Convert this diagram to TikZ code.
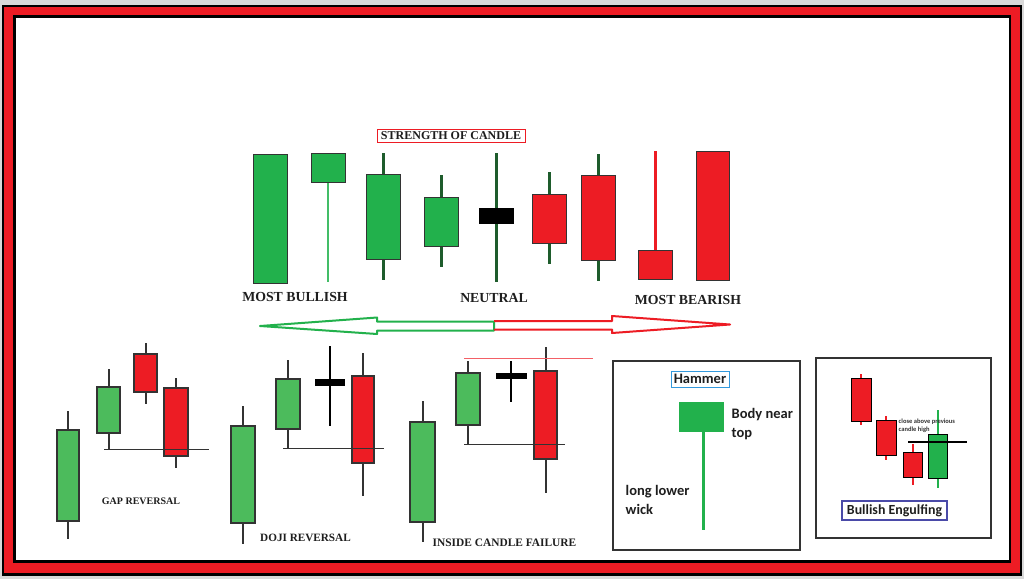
\documentclass[tikz,border=0pt]{standalone}
\usepackage{fontspec}
\setmainfont{Liberation Serif}
\newfontfamily\calfont{Carlito}
\definecolor{tg}{HTML}{22B14C}
\definecolor{tr}{HTML}{ED1C24}
\definecolor{bgr}{HTML}{4CBB5C}
\definecolor{dg}{HTML}{1E5C2C}
\definecolor{ol}{HTML}{333333}
\definecolor{txt}{HTML}{1E1E1E}
\definecolor{hamblue}{HTML}{3399DD}
\definecolor{engblue}{HTML}{4A4AA8}
\newcommand\csk[8]{%
  \draw[#2] ({(#3+#4)/2},#7) -- ({(#3+#4)/2},#8);
  \filldraw[#1] (#3,#5) rectangle (#4,#6);}
\tikzset{
  topg/.style={fill=tg,draw=ol,line width=1pt},
  topr/.style={fill=tr,draw=ol,line width=1pt},
  topw/.style={draw=dg,line width=3pt},
  botg/.style={fill=bgr,draw=ol,line width=2pt},
  botr/.style={fill=tr,draw=ol,line width=2pt},
  botk/.style={fill=black,draw=black,line width=1pt},
  botw/.style={draw=ol,line width=2pt},
  biglab/.style={font=\bfseries\fontsize{13.8}{16}\selectfont,text=txt,inner sep=0pt},
  cal/.style={font=\calfont\bfseries\fontsize{14.5}{19}\selectfont,text=txt,inner sep=0pt,align=left},
  panel/.style={draw=ol,line width=1.5pt},
}
\begin{document}
\begin{tikzpicture}[x=1pt,y=-1pt]
\useasboundingbox (0,0) rectangle (1024,579);
% frame
\fill[black!15] (0,0) rectangle (1024,579);
\fill[black] (2,5) rectangle (1022,576);
\fill[tr] (4,7.3) rectangle (1020,573);
\fill[black] (13.3,15) rectangle (1011,563);
\fill[white] (15.5,18) rectangle (1009,559.5);

% title
\node[draw=tr,line width=0.8pt,inner sep=0pt,minimum width=148pt,minimum height=13pt,
  text height=8pt,text depth=0pt,font=\bfseries\fontsize{12}{14}\selectfont,text=txt] (title) at (451,135.5) {STRENGTH OF CANDLE};

% top candles
\csk{topg}{draw=none}{253}{287}{154}{283}{154}{283}
\csk{topg}{draw=tg!85!white,line width=2.5pt}{311}{345}{153}{182}{182}{282}
\csk{topg}{topw}{366}{400}{174}{259}{153}{280}
\csk{topg}{topw}{424}{458}{197}{246}{175}{267}
\csk{fill=black,draw=black}{topw}{479}{513}{208}{223}{153}{282}
\csk{topr}{topw}{532}{566}{194}{243}{172}{264}
\csk{topr}{topw}{581}{615}{175}{260}{154}{281}
\csk{topr}{draw=tr,line width=3pt}{638}{672}{250}{279}{151}{250}
\csk{topr}{draw=none}{696}{729}{151}{280}{151}{280}

\node[biglab] (bull) at (295,297) {MOST BULLISH};
\node[biglab] (neut) at (494,298) {NEUTRAL};
\node[biglab] (bear) at (688,299.5) {MOST BEARISH};

% double arrow
\draw[tg,line width=2pt,line join=round] (494,321.5) -- (377,321.5) -- (377,317.5) -- (260,326) -- (377,334) -- (377,330.5) -- (494,330.5) -- cycle;
\draw[tr,line width=2pt,line join=round] (494,321) -- (612,321) -- (612,316) -- (730,324.5) -- (612,333) -- (612,329.5) -- (494,329.5);

% gap reversal
\csk{botg}{botw}{57}{79}{430}{521}{411}{539}
\csk{botg}{botw}{97}{120}{387}{433}{369}{449}
\csk{botr}{botw}{134}{157}{354}{392}{343}{404}
\csk{botr}{botw}{164}{188}{388}{456}{378}{468}
\draw[ol,line width=1pt] (104,449) -- (209,449);
\node[font=\bfseries\fontsize{10}{12}\selectfont,text=txt,inner sep=0pt] (gap) at (141,501.5) {GAP REVERSAL};

% doji reversal
\csk{botg}{botw}{231}{255}{426}{523}{406}{544}
\csk{botg}{botw}{276}{300}{379}{429}{360}{448}
\csk{botk}{draw=black,line width=2pt}{315}{344}{379}{385}{346}{426}
\csk{botr}{botw}{352}{374}{376}{463}{353}{496}
\draw[ol,line width=1pt] (283,448) -- (384,448);
\node[font=\bfseries\fontsize{11.2}{13}\selectfont,text=txt,inner sep=0pt] (doji) at (305.5,537.5) {DOJI REVERSAL};

% inside candle failure
\csk{botg}{botw}{410}{435}{422}{522}{401}{542}
\csk{botg}{botw}{456}{480}{373}{425}{361}{444}
\csk{botk}{draw=black,line width=2pt}{496}{526}{373}{378}{361}{402}
\csk{botr}{botw}{534}{557}{371}{459}{347}{493}
\draw[tr!70,line width=1pt] (464,358) -- (593,358);
\draw[ol,line width=1pt] (464,444) -- (565,444);
\node[font=\bfseries\fontsize{11.4}{13}\selectfont,text=txt,inner sep=0pt] (inside) at (504.5,543) {INSIDE CANDLE FAILURE};

% hammer panel
\draw[panel] (613,361) rectangle (800,550);
\node[draw=hamblue,line width=1pt,inner sep=0pt,minimum width=58pt,minimum height=16pt,
  font=\calfont\bfseries\fontsize{14.5}{16}\selectfont,text=txt] (ham) at (700,379) {Hammer};
\draw[tg,line width=3pt] (703,432) -- (703,530);
\fill[tg] (679,402) rectangle (724,432);
\node[cal,anchor=north west] (body) at (731.5,408) {Body near\\top};
\node[cal,anchor=north west] (wick) at (625.5,485) {long lower\\wick};

% engulfing panel
\draw[panel] (816,358) rectangle (991,538);
\csk{fill=tr}{draw=tr,line width=2pt}{851}{871}{378}{421}{374}{425}
\csk{fill=tr}{draw=tr,line width=2pt}{876}{896}{420}{455}{416}{460}
\csk{fill=tr}{draw=tr,line width=2pt}{903}{922}{452}{477}{444}{485}
\csk{fill=tg}{draw=tg,line width=2pt}{928}{947}{434}{478}{410}{488}
\draw[black,line width=2pt] (908,442) -- (967,442);
\node[font=\calfont\bfseries\fontsize{6.5}{8}\selectfont,text=ol,inner sep=0pt,align=left,anchor=north west] (close) at (898.5,418.5) {close above previous\\candle high};
\node[draw=engblue,line width=1.5pt,inner sep=0pt,minimum width=105pt,minimum height=19pt,
  font=\calfont\bfseries\fontsize{13.9}{16}\selectfont,text=txt] (eng) at (894.5,510.5) {Bullish Engulfing};
\end{tikzpicture}
\end{document}
